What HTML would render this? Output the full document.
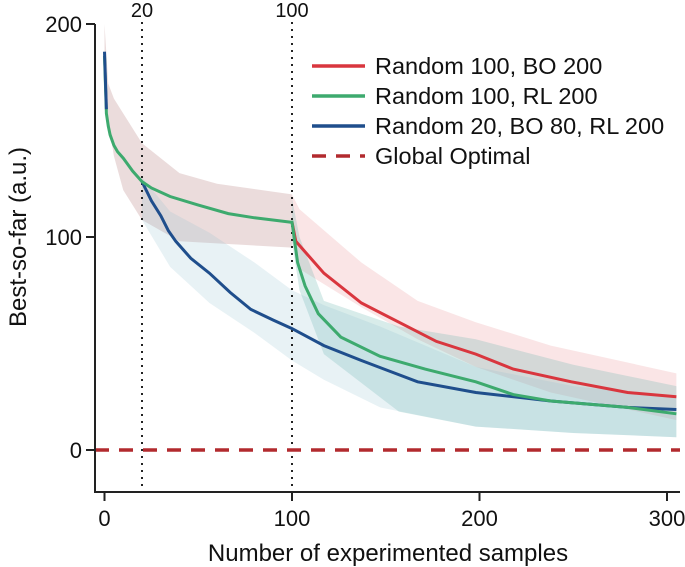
<!DOCTYPE html>
<html><head><meta charset="utf-8"><style>
html,body{margin:0;padding:0;background:#fff}
svg{display:block;font-family:"Liberation Sans",Arial,sans-serif}
</style></head><body>
<svg id="c" width="685" height="567"></svg>
<script>
const xTicks=[0,100,200,300];
const yTicks=[0,100,200];
const markers=[20,100];
const earlyX=[0,1,2,3,5,7,10,15,20,25,35,50,66,80,99,100];
const earlyY=[185,158,152,148,143,140,137,131,126,123,119,115,111,109,107,107];
const redX=[100,102,117,137,157,177,198,218,249,279,305];
const redY=[107,98,83,69,60,51,45,38,32,27,25];
const greenX=[100,103,107,114,126,147,171,198,218,238,279,305];
const greenY=[107,88,77,64,53,44,38,32,26,23,20,17];
const blueX=[20,25,30,34,38,46,56,67,78,90,100,117,137,167,198,238,279,305];
const blueY=[126,117,110,103,98,90,83,74,66,61,57,49,42,32,27,23,20,19];
const bandRGX=[0,2,5,10,20,40,60,100];
const bandRGUp=[200,172,165,158,144,130,125,120];
const bandRGLo=[183,155,138,122,108,98,97,95];
const bandRX=[100,104,137,167,198,238,305];
const bandRUp=[120,113,88,70,60,49,36];
const bandRLo=[98,85,67,52,39,27,14];
const bandGX=[100,104,117,157,198,250,305];
const bandGUp=[118,100,70,58,52,40,30];
const bandGLo=[98,75,45,18,11,8,6];
const bandBX=[20,35,56,80,100,117,147,198,250,305];
const bandBUp=[128,112,102,88,75,68,58,39,30,25];
const bandBLo=[108,86,69,55,42,33,20,11,8,6];
const legendLabels=["Random 100, BO 200","Random 100, RL 200","Random 20, BO 80, RL 200","Global Optimal"];
const legendColors=["#d9363e","#3daa6e","#1f4e8c","#b22a2e"];

const svg=document.getElementById('c');
const NS='http://www.w3.org/2000/svg';
const X=v=>104.5+v*1.875;
const Y=v=>450-v*2.13;
function mk(t,a,p){const e=document.createElementNS(NS,t);for(const k in a)e.setAttribute(k,a[k]);(p||svg).appendChild(e);return e;}
function line(xs,ys){return xs.map((x,i)=>(i?'L':'M')+X(x).toFixed(1)+','+Y(ys[i]).toFixed(1)).join('');}
function band(xs,up,lo){let d=xs.map((x,i)=>(i?'L':'M')+X(x)+','+Y(up[i])).join('');for(let i=xs.length-1;i>=0;i--)d+='L'+X(xs[i])+','+Y(lo[i]);return d+'Z';}
const clip=mk('clipPath',{id:'pc'});mk('rect',{x:95,y:0,width:585,height:492},clip);
const g=mk('g',{'clip-path':'url(#pc)'});
let e;
e=mk('path',{d:band(bandRGX,bandRGUp,bandRGLo),fill:'rgba(190,140,140,0.3)'},g);

e=mk('path',{d:band(bandRX,bandRUp,bandRLo),fill:'rgba(235,150,155,0.25)'},g);

e=mk('path',{d:band(bandGX,bandGUp,bandGLo),fill:'rgba(100,180,170,0.25)'},g);

e=mk('path',{d:band(bandBX,bandBUp,bandBLo),fill:'rgba(140,190,205,0.2)'},g);

markers.forEach(m=>{
 e=mk('line',{x1:X(m),x2:X(m),y1:22,y2:492,stroke:'#222','stroke-width':2,'stroke-dasharray':'2,5'},g);
 
 e=mk('text',{x:X(m),y:17,'text-anchor':'middle','font-size':20,fill:'#111'});e.textContent=m;
 
});
e=mk('line',{x1:95,x2:680,y1:Y(0),y2:Y(0),stroke:'#b22a2e','stroke-width':3.5,'stroke-dasharray':'14,10'},g);

e=mk('path',{d:line(redX,redY),fill:'none',stroke:'#d9363e','stroke-width':3},g);

e=mk('path',{d:line(earlyX.concat(blueX),earlyY.concat(blueY)).replace(/^/,''),fill:'none',stroke:'none'},g);
e=mk('path',{d:line(blueX,blueY),fill:'none',stroke:'#1f4e8c','stroke-width':3},g);

e=mk('path',{d:line(earlyX.concat(greenX),earlyY.concat(greenY)),fill:'none',stroke:'#3daa6e','stroke-width':3},g);

e=mk('path',{d:line(earlyX.slice(0,2),[187,160]),fill:'none',stroke:'#1f4e8c','stroke-width':3},g);
// axes
e=mk('path',{d:'M95,24L95,492L680,492',fill:'none',stroke:'#222','stroke-width':2});

yTicks.forEach(t=>{mk('line',{x1:86,x2:95,y1:Y(t),y2:Y(t),stroke:'#222','stroke-width':2});
 e=mk('text',{x:82,y:Y(t)+8,'text-anchor':'end','font-size':22,fill:'#111'});e.textContent=t;
 });
xTicks.forEach(t=>{mk('line',{x1:X(t),x2:X(t),y1:492,y2:501,stroke:'#222','stroke-width':2});
 e=mk('text',{x:X(t),y:526,'text-anchor':'middle','font-size':22,fill:'#111'});e.textContent=t;
 });
e=mk('text',{x:388,y:561,'text-anchor':'middle','font-size':24,fill:'#111'});e.textContent='Number of experimented samples';

e=mk('text',{x:0,y:0,transform:'translate(26,237) rotate(-90)','text-anchor':'middle','font-size':24,fill:'#111'});e.textContent='Best-so-far (a.u.)';

legendLabels.forEach((l,i)=>{const y=66+i*30;
 e=mk('line',{x1:312,x2:365,y1:y,y2:y,stroke:legendColors[i],'stroke-width':3.5,'stroke-dasharray':i==3?'14,10':'none'});
 
 e=mk('text',{x:375,y:y+8,'font-size':23.5,fill:'#111'});e.textContent=l;
 });
</script>
</body></html>
